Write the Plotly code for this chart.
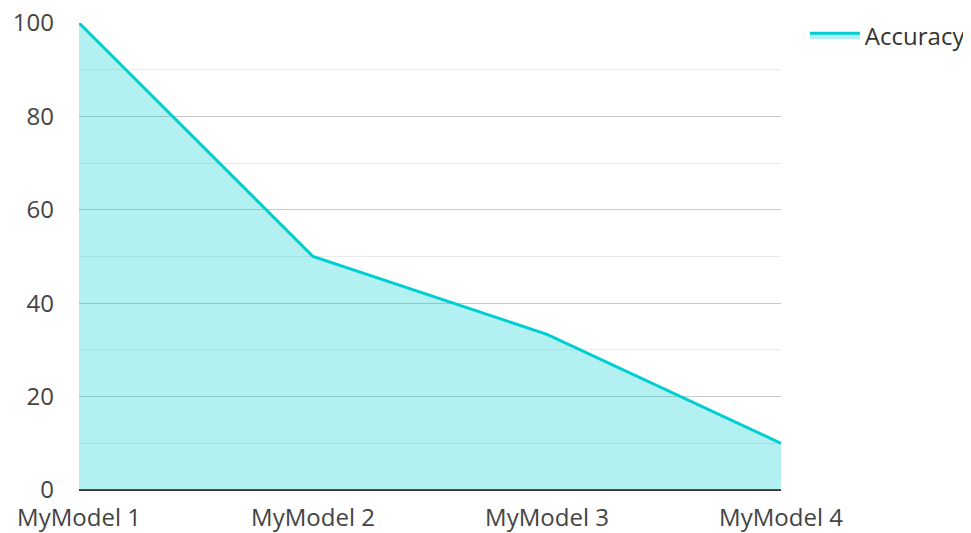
import plotly.graph_objects as go

models = ["MyModel 1", "MyModel 2", "MyModel 3", "MyModel 4"]
accuracy = [100, 50, 33.33, 10]

fig = go.Figure()
fig.add_trace(go.Scatter(
    x=models, y=accuracy, name="Accuracy", mode="lines",
    line=dict(color="#00CED1", width=3),
    fill="tozeroy", fillcolor="rgba(0,206,209,0.3)",
))

fig.update_layout(
    width=979, height=533,
    margin=dict(l=71, r=206, t=15, b=51, autoexpand=False),
    paper_bgcolor="white", plot_bgcolor="white",
    font=dict(family="Open Sans", size=24, color="#444"),
    showlegend=True,
    legend=dict(x=1.034, y=1.021, xanchor="left", yanchor="top", itemwidth=50,
                font=dict(size=24, color="#333"), bgcolor="rgba(0,0,0,0)"),
    xaxis=dict(range=[0, 3], showgrid=False, zeroline=False, showline=False,
               ticks="", automargin=False, ticklabelstandoff=11,
               ticklabeloverflow="allow",
               tickfont=dict(size=24, color="#444")),
    yaxis=dict(range=[0, 100], dtick=20, showgrid=True, gridcolor="#c8c8c8", gridwidth=1,
               zeroline=True, zerolinecolor="#333", zerolinewidth=2,
               showline=False, ticks="", ticklabelstandoff=24, automargin=False,
               ticklabeloverflow="allow",
               tickfont=dict(size=24, color="#444"),
               minor=dict(dtick=10, showgrid=True, gridcolor="#ebebeb", gridwidth=1)),
)

fig.write_html("out.html")
